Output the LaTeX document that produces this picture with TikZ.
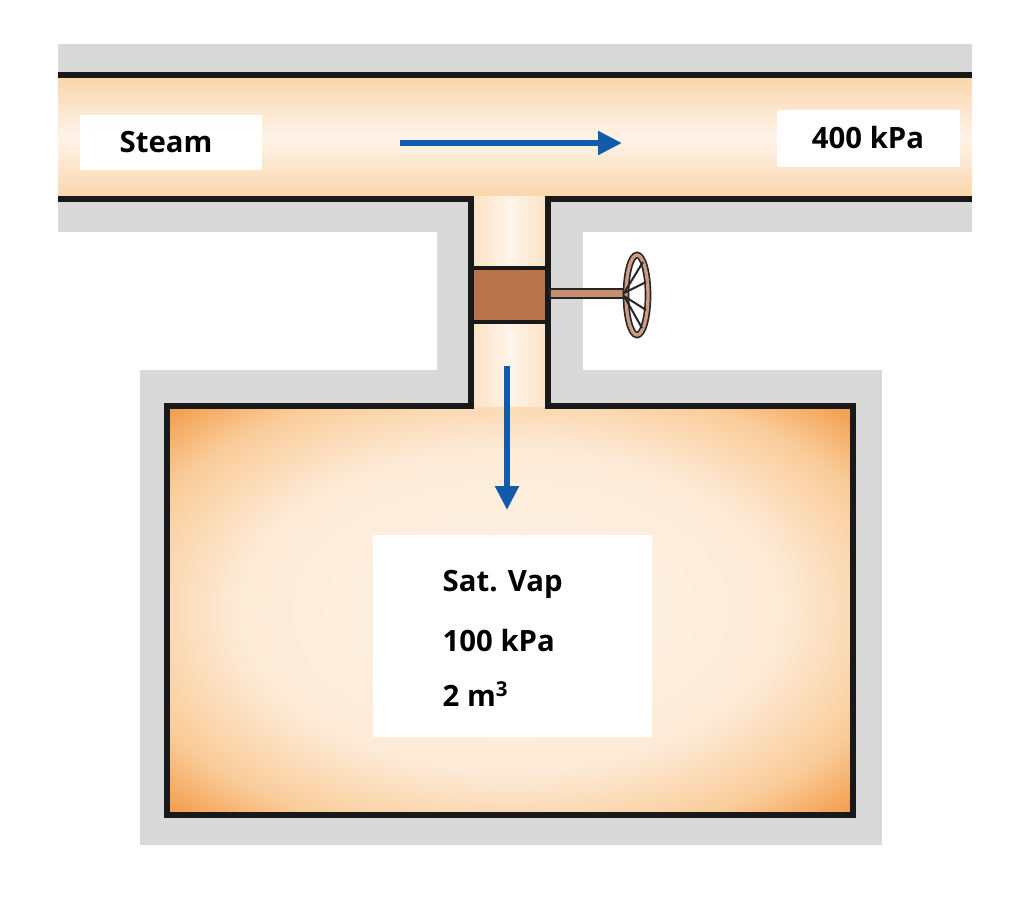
\documentclass[tikz,border=0pt]{standalone}
\usepackage{fontspec}
\setmainfont{Open Sans}
\usetikzlibrary{arrows.meta}
\definecolor{org}{RGB}{238,150,70}
\definecolor{lorg}{RGB}{250,214,172}
\definecolor{pale}{RGB}{254,244,234}
\definecolor{flowc}{RGB}{18,90,170}
\definecolor{brn}{RGB}{185,115,75}
\pgfdeclareradialshading{tankshade}{\pgfpoint{0bp}{0bp}}{rgb(0bp)=(0.996,0.957,0.918); rgb(20bp)=(0.99,0.92,0.84); rgb(29bp)=(0.98,0.80,0.60); rgb(35bp)=(0.95,0.62,0.30); rgb(100bp)=(0.93,0.55,0.22)}
\begin{document}
\begin{tikzpicture}[x=0.75pt,y=-0.75pt,
  wall/.style={fill=gray!30!white,draw=none},
  blk/.style={line width=4.5pt,draw=black!90,line join=miter},
  flow/.style={draw=flowc,line width=4.5pt,-{Triangle[length=18pt,width=17pt]}},
  txt/.style={font=\bfseries\fontsize{22}{26}\selectfont},
]
\useasboundingbox (0,0) rectangle (1024,915);
\fill[white] (0,0) rectangle (1024,915);
% walls
\fill[wall] (58,44) rectangle (972,232);
\fill[wall] (437,230) rectangle (583,374);
\fill[wall] (140,370) rectangle (882,845);
% interiors
\shade[top color=lorg,bottom color=lorg,middle color=pale] (58,78) rectangle (972,197);
\shade[left color=lorg!70!white,right color=lorg!70!white,middle color=pale] (473,196) rectangle (547,408);
\shade[shading=tankshade] (169,407) rectangle (851,813);
% black outline
\draw[blk] (58,75) -- (972,75);
\draw[blk] (58,199) -- (471,199) -- (471,406) -- (167,406) -- (167,815) -- (853,815) -- (853,406) -- (548,406) -- (548,199) -- (972,199);
% valve
\fill[brn] (474,268) rectangle (545,322);
\draw[line width=3pt,black!90] (474,268) -- (545,268) (474,322) -- (545,322);
\fill[brn!80!white,draw=black!85,line width=1pt] (550,289) rectangle (624,298);
\draw[black!85,line width=5pt] (637,295) ellipse (11 and 40);
\draw[brn!70!white,line width=2.5pt] (637,295) ellipse (11 and 40);
\draw[black!85,line width=1.5pt] (624,293) -- (643,262) (624,293) -- (646,282) (624,296) -- (646,310) (624,296) -- (642,328);
% arrows
\coordinate (h1) at (400,143); \coordinate (h2) at (622,143);
\draw[flow] (h1) -- (h2);
\coordinate (v1) at (507,366); \coordinate (v2) at (507,510);
\draw[flow] (v1) -- (v2);
% labels
\fill[white] (80,115) rectangle (262,170);
\node[txt] (steam) at (166,142) {Steam};
\fill[white] (777,110) rectangle (960,167);
\node[txt] (p400) at (868,137) {400 kPa};
\fill[white] (373,535) rectangle (652,737);
\node[txt,anchor=west] (sv) at (438,584) {Sat. Vap};
\node[txt,anchor=west] (p100) at (438,640) {100 kPa};
\node[txt,anchor=west] (vol) at (438,694) {2 m\textsuperscript{3}};
\end{tikzpicture}
\end{document}
